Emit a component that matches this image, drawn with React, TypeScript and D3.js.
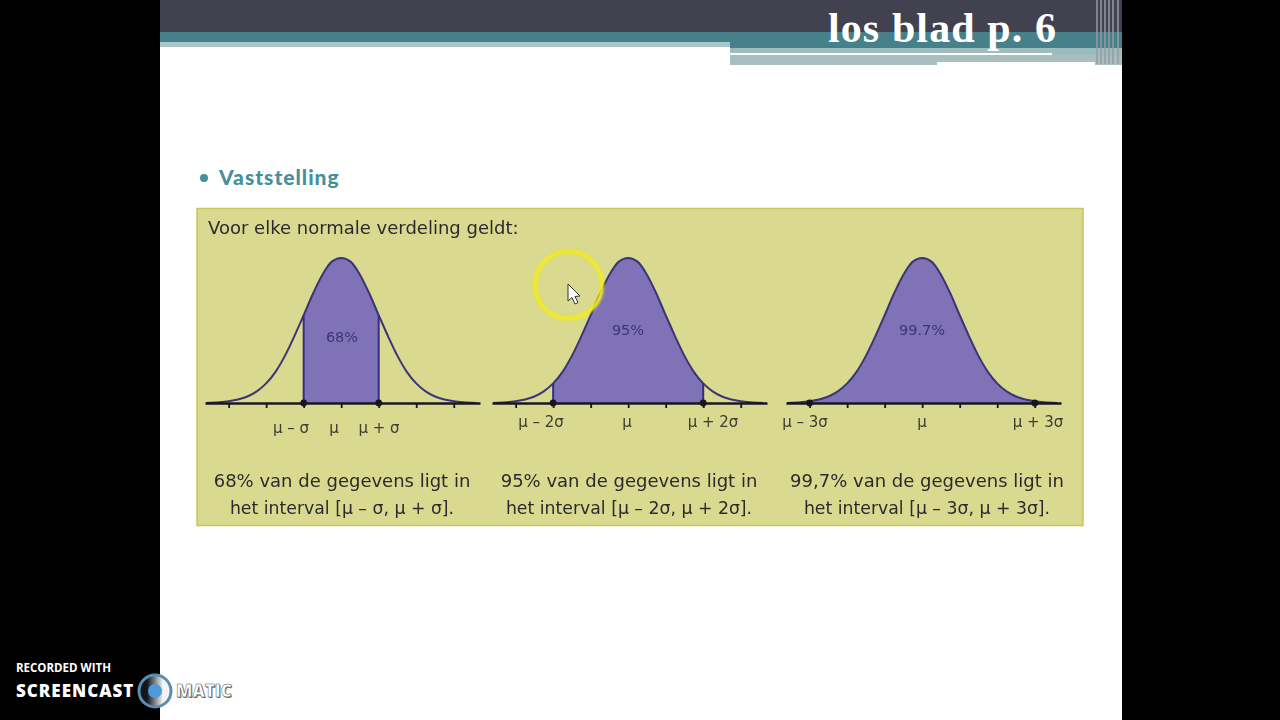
import { useEffect, useRef } from "react";
import * as d3 from "d3";

// curve height, as a fraction of the peak, per sigma step
const sigmaSteps = [-3.6, -3.25, -3, -2.75, -2.5, -2.25, -2, -1.75, -1.5, -1.25, -1, -0.75, -0.5, -0.25, 0, 0.25, 0.5, 0.75, 1, 1.25, 1.5, 1.75, 2, 2.25, 2.5, 2.75, 3, 3.25, 3.6];
const curveHeights = [0, 0.005, 0.012, 0.024, 0.045, 0.08, 0.135, 0.215, 0.325, 0.46, 0.605, 0.755, 0.885, 0.975, 1, 0.975, 0.885, 0.755, 0.605, 0.46, 0.325, 0.215, 0.135, 0.08, 0.045, 0.024, 0.012, 0.005, 0];
const tickSteps = [-3, -2, -1, 0, 1, 2, 3];

const bands = [1, 2, 3];
const percentLabels = ["68%", "95%", "99.7%"];
const tickLabels = [
  ["μ – σ", "μ", "μ + σ"],
  ["μ – 2σ", "μ", "μ + 2σ"],
  ["μ – 3σ", "μ", "μ + 3σ"]
];
const captionTop = ["68% van de gegevens ligt in", "95% van de gegevens ligt in", "99,7% van de gegevens ligt in"];
const captionBottom = ["het interval [μ – σ, μ + σ].", "het interval [μ – 2σ, μ + 2σ].", "het interval [μ – 3σ, μ + 3σ]."];

const panelLeft = [205, 492, 786];
const panelWidth = 275;
const baseline = 403;
const peakHeight = 145;

const labelX = [[291, 334, 379], [541, 627, 713], [805, 922, 1038]];
const labelY = [433, 427, 427];
const percentX = [342, 628, 922];
const percentY = [342, 335, 335];
const captionX = [342, 629, 927];

const sans = "'DejaVu Sans', sans-serif";
const ink = "#2b2b2e";

const yScale = d3.scaleLinear().domain([0, 1]).range([baseline, baseline - peakHeight]);

function xScale(panel: number) {
  return d3.scaleLinear().domain([-3.63, 3.7]).range([panelLeft[panel], panelLeft[panel] + panelWidth]);
}

function NormalPanel({ panel }: { panel: number }) {
  const axisRef = useRef<SVGGElement | null>(null);
  const x = xScale(panel);
  const band = bands[panel];
  const points = sigmaSteps.map((step, i) => ({ step, height: curveHeights[i] }));

  const area = d3.area<{ step: number; height: number }>()
    .x((d) => x(d.step))
    .y0(baseline)
    .y1((d) => yScale(d.height))
    .curve(d3.curveMonotoneX);
  const line = d3.line<{ step: number; height: number }>()
    .x((d) => x(d.step))
    .y((d) => yScale(d.height))
    .curve(d3.curveMonotoneX);

  const inside = points.filter((d) => Math.abs(d.step) <= band);
  const edge = curveHeights[sigmaSteps.indexOf(band)];

  useEffect(() => {
    const axis = d3.axisBottom(x).tickValues(tickSteps).tickSize(5).tickSizeOuter(0).tickFormat(() => "");
    const g = d3.select(axisRef.current);
    g.call(axis as any);
    g.select(".domain").attr("stroke", "#17171f").attr("stroke-width", 2.4);
    g.selectAll(".tick line").attr("stroke", "#17171f").attr("stroke-width", 1.8);
  }, []);

  return (
    <g>
      <path d={area(inside) ?? ""} fill="#8072b6" />
      <path d={line(points) ?? ""} fill="none" stroke="#3a3678" strokeWidth={2} />
      {[-band, band].map((s) => (
        <g key={s}>
          {panel < 2 && (
            <line x1={x(s)} x2={x(s)} y1={baseline} y2={yScale(edge)} stroke="#332f85" strokeWidth={2} />
          )}
        </g>
      ))}
      <g ref={axisRef} transform={`translate(0,${baseline})`} />
      {[-band, band].map((s) => (
        <circle key={s} cx={x(s)} cy={baseline} r={3.4} fill="#17171f" />
      ))}
      <text x={percentX[panel]} y={percentY[panel]} textAnchor="middle" fontFamily={sans} fontSize={14.5} fill="#3a3670">
        {percentLabels[panel]}
      </text>
      {tickLabels[panel].map((label, i) => (
        <text key={i} x={labelX[panel][i]} y={labelY[panel]} textAnchor="middle" fontFamily={sans} fontSize={15} fill="#3c3c34">
          {label}
        </text>
      ))}
      <text x={captionX[panel]} y={487} textAnchor="middle" fontFamily={sans} fontSize={18} fill={ink}>
        {captionTop[panel]}
      </text>
      <text x={captionX[panel]} y={514} textAnchor="middle" fontFamily={sans} fontSize={17.3} fill={ink}>
        {captionBottom[panel]}
      </text>
    </g>
  );
}

export default function App() {
  return (
    <svg width={1280} height={720} viewBox="0 0 1280 720" style={{ position: "fixed", left: 0, top: 0 }}>
      <defs>
        <filter id="soft" x="-5%" y="-5%" width="110%" height="110%">
          <feGaussianBlur stdDeviation="0.45" />
        </filter>
        <filter id="glow" x="-20%" y="-20%" width="140%" height="140%">
          <feGaussianBlur stdDeviation="0.9" />
        </filter>
        <linearGradient id="badge" x1="0" x2="1" y1="0" y2="0">
          <stop offset="0.25" stopColor="#10161c" />
          <stop offset="0.75" stopColor="#f4f4f4" />
        </linearGradient>
      </defs>
      <rect width={1280} height={720} fill="#000" />
      <rect x={160} width={962} height={720} fill="#fff" />

      {/* slide header */}
      <rect x={160} width={962} height={32} fill="#41414f" />
      <rect x={160} y={32} width={962} height={10} fill="#46808a" />
      <rect x={160} y={42} width={570} height={5} fill="#a9c6c9" />
      <rect x={730} y={42} width={392} height={6} fill="#46808a" />
      <rect x={730} y={48} width={392} height={5} fill="#9dbcbe" />
      <rect x={730} y={53} width={322} height={2} fill="#fff" />
      <rect x={1052} y={53} width={70} height={2} fill="#9dbcbe" />
      <rect x={730} y={55} width={392} height={10} fill="#a9bfbf" />
      <rect x={937} y={62} width={158} height={3} fill="#fff" />
      <g fill="#9a9aa4" opacity={0.75}>
        {[1096, 1100, 1104, 1108, 1112, 1117].map((s) => (
          <rect key={s} x={s} y={0} width={2} height={64} />
        ))}
      </g>
      <text x={828} y={42} fontFamily="'Liberation Serif', serif" fontWeight={700} fontSize={42} letterSpacing={1.1} fill="#fff">
        los blad p. 6
      </text>

      {/* heading */}
      <circle cx={204} cy={178} r={4} fill="#46909c" />
      <text x={219} y={185} fontFamily="Lato, sans-serif" fontWeight={900} fontSize={21} letterSpacing={1} fill="#46909c">
        Vaststelling
      </text>

      {/* yellow box */}
      <rect x={197} y={208.5} width={886} height={317} fill="#d9d98f" stroke="#c4c95c" strokeWidth={1.5} />
      <g filter="url(#soft)">
        <text x={208} y={234} fontFamily={sans} fontSize={18} fill={ink}>
          Voor elke normale verdeling geldt:
        </text>
        {bands.map((_, i) => (
          <NormalPanel key={i} panel={i} />
        ))}
      </g>

      {/* cursor highlight */}
      <circle cx={568.5} cy={285} r={33.5} fill="none" stroke="#f2ec1c" strokeWidth={4} filter="url(#glow)" />
      <path d="M568,284 L568,301 L572,297.5 L575,304 L578,302.5 L575,296.5 L580,296 Z" fill="#fff" stroke="#333" strokeWidth={1} />

      {/* recorder badge */}
      <text x={16} y={672} fontFamily="'Open Sans', sans-serif" fontWeight={700} fontSize={11.5} fill="#fff">
        RECORDED WITH
      </text>
      <text x={16} y={697} fontFamily="'Open Sans', sans-serif" fontWeight={800} fontSize={17} letterSpacing={1} fill="#fff">
        SCREENCAST
      </text>
      <circle cx={155} cy={691} r={16} fill="url(#badge)" stroke="#5a8fb2" strokeWidth={3} />
      <circle cx={155} cy={691} r={7} fill="#4d9ad8" />
      <text x={177} y={698} fontFamily="'Open Sans', sans-serif" fontWeight={800} fontSize={17} fill="#777">
        MATIC
      </text>
      <text x={176} y={697} fontFamily="'Open Sans', sans-serif" fontWeight={800} fontSize={17} fill="#fff" stroke="#555" strokeWidth={0.5}>
        MATIC
      </text>
    </svg>
  );
}
